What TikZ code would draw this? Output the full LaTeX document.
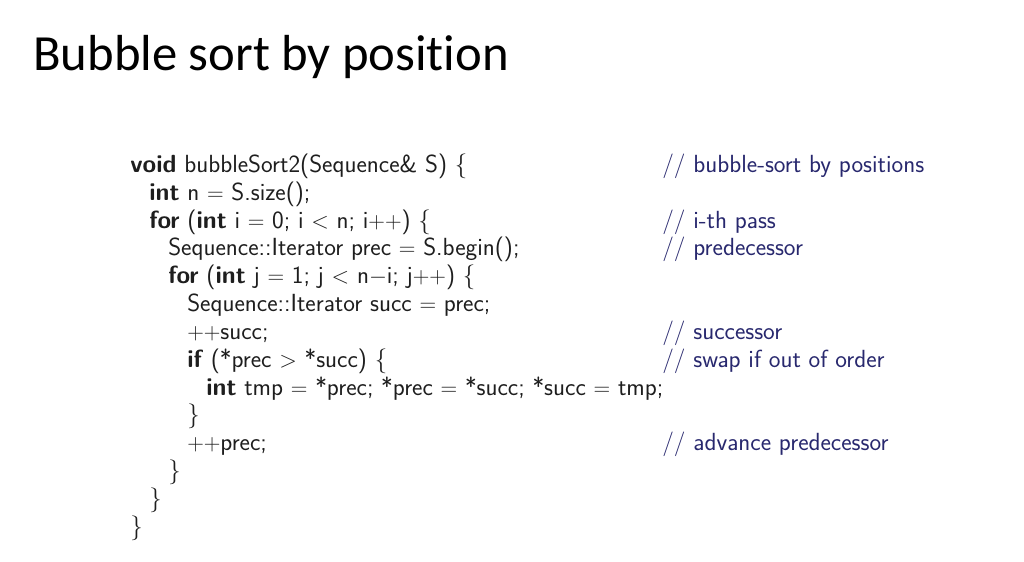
\documentclass[tikz,border=0pt]{standalone}
\usepackage{fontspec}
\newfontfamily\titlefont[Ligatures=NoCommon]{Carlito}
\definecolor{cmt}{RGB}{40,40,110}
\definecolor{codec}{RGB}{30,30,30}
\begin{document}
\begin{tikzpicture}[x=0.75pt,y=-0.75pt,
  code/.style={anchor=base west,inner sep=0pt,font=\sffamily\fontsize{18.6}{22}\selectfont,text=codec},
  cmtline/.style={code,text=cmt}]
\useasboundingbox (0,0) rectangle (1024,561);
\fill[white] (0,0) rectangle (1024,561);
\node[anchor=base west,inner sep=0pt,font=\titlefont\fontsize{38}{44}\selectfont] (title) at (33,70) {Bubble sort by position};
\node[code] (l1) at (130,172) {\textbf{void} bubbleSort2(Sequence\& S) \{};
\node[code] (l2) at (149,200) {\textbf{int} n $=$ S.size();};
\node[code] (l3) at (149,228) {\textbf{for} (\textbf{int} i $=$ 0; i $<$ n; i$++$) \{};
\node[code] (l4) at (168,255) {Sequence::Iterator prec $=$ S.begin();};
\node[code] (l5) at (168,283) {\textbf{for} (\textbf{int} j $=$ 1; j $<$ n$-$i; j$++$) \{};
\node[code] (l6) at (187,311) {Sequence::Iterator succ $=$ prec;};
\node[code] (l7) at (187,339) {$++$succ;};
\node[code] (l8) at (187,367) {\textbf{if} (*prec $>$ *succ) \{};
\node[code] (l9) at (206,395) {\textbf{int} tmp $=$ *prec; *prec $=$ *succ; *succ $=$ tmp;};
\node[code] (l10) at (187,422) {\}};
\node[code] (l11) at (187,450) {$++$prec;};
\node[code] (l12) at (168,478) {\}};
\node[code] (l13) at (149,506) {\}};
\node[code] (l14) at (130,534) {\}};
\node[cmtline] (c1) at (662,172) {// bubble-sort by positions};
\node[cmtline] (c3) at (662,228) {// i-th pass};
\node[cmtline] (c4) at (662,255) {// predecessor};
\node[cmtline] (c7) at (662,339) {// successor};
\node[cmtline] (c8) at (662,367) {// swap if out of order};
\node[cmtline] (c11) at (662,450) {// advance predecessor};
\end{tikzpicture}
\end{document}
